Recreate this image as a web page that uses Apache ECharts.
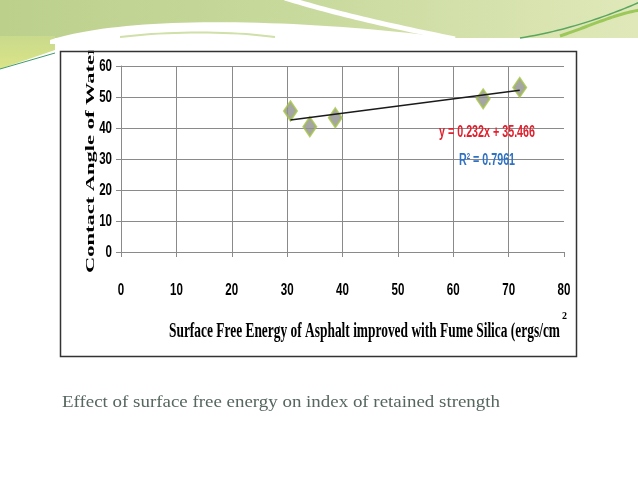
<!DOCTYPE html>
<html>
<head>
<meta charset="utf-8">
<style>
  html, body { margin: 0; padding: 0; background: #fff; }
  #main { width: 638px; height: 478px; }
</style>
<script src="https://cdn.jsdelivr.net/npm/echarts@6/dist/echarts.min.js"></script>
</head>
<body>
<div id="main"></div>
<script>
// 数据
var xTicks = [0, 10, 20, 30, 40, 50, 60, 70, 80];
var yTicks = [0, 10, 20, 30, 40, 50, 60];
var surfaceEnergy = [30.6, 34.1, 38.7, 65.4, 72.0];
var contactAngle = [45.5, 40.4, 43.3, 49.4, 53.1];
var trendX = [30.6, 72.0];
var trendY = [42.6, 52.2];
var eqText = 'y = 0.232x + 35.466';
var r2Value = '0.7961';
var xTitle = 'Surface Free Energy of Asphalt improved with Fume Silica (ergs/cm';
var yTitle = 'Contact Angle of Water';
var caption = 'Effect of surface free energy on index of retained strength';

// 文字宽度测量，用来压缩字体
function measure(text, font) {
    var ctx = document.createElement('canvas').getContext('2d');
    ctx.font = font;
    return ctx.measureText(text).width;
}
// 贝塞尔曲线取点
function bez(p0, p1, p2, p3, n) {
    var pts = [];
    for (var i = 0; i <= n; i++) {
        var t = i / n, u = 1 - t;
        pts.push([
            u * u * u * p0[0] + 3 * u * u * t * p1[0] + 3 * u * t * t * p2[0] + t * t * t * p3[0],
            u * u * u * p0[1] + 3 * u * u * t * p1[1] + 3 * u * t * t * p2[1] + t * t * t * p3[1]
        ]);
    }
    return pts;
}

(function() {
    var myChart = echarts.init(document.getElementById('main'));

    var xFont = 'bold 20px "Liberation Serif"';
    var xScale = 391 / measure(xTitle, xFont);
    var yFont = 'bold 12px "Liberation Serif"';
    var yLen = 228;
    var yScale = yLen / measure(yTitle, yFont);
    var eqFont = 'bold 16px "Liberation Sans"';
    var eqScale = 96 / measure(eqText, eqFont);
    var capFont = '17px "Liberation Serif"';
    var capScale = 438 / measure(caption, capFont);
    var tickFont = 'bold 17px "Liberation Sans"';

    var scatterData = surfaceEnergy.map(function(x, i) { return [x, contactAngle[i]]; });
    var trendData = trendX.map(function(x, i) { return [x, trendY[i]]; });

    var whiteSwoosh = bez([50, 40], [120, 17], [280, 16], [460, 39], 40);
    whiteSwoosh.push([460, 44], [50, 44]);

    var graphics = [
        // 图表边框
        { type: 'rect', shape: { x: 60.5, y: 51.5, width: 516, height: 305 },
          style: { fill: 'none', stroke: '#333', lineWidth: 1.5 }, z: 10 },
        // 纵轴标题
        { type: 'text', x: 91, y: 273 - yLen / 2, rotation: Math.PI / 2, scaleX: yScale, z: 5,
          style: { text: yTitle, font: yFont, fill: '#000', align: 'center', verticalAlign: 'middle' } },
        // 遮住超出边框的部分
        { type: 'rect', shape: { x: 70, y: 36, width: 50, height: 14.8 }, style: { fill: '#fff' }, z: 6 },
        // 横轴标题
        { type: 'text', x: 169, y: 332, scaleX: xScale, z: 5,
          style: { text: xTitle, font: xFont, fill: '#000', align: 'left', verticalAlign: 'middle' } },
        { type: 'text', x: 562, y: 316, z: 5,
          style: { text: '2', font: 'bold 10px "Liberation Serif"', fill: '#000', align: 'left', verticalAlign: 'middle' } },
        // 趋势线公式
        { type: 'text', x: 487, y: 133, scaleX: eqScale, z: 5,
          style: { text: eqText, font: eqFont, fill: '#e3202e', align: 'center', verticalAlign: 'middle' } },
        { type: 'text', x: 487, y: 161, scaleX: eqScale, z: 5,
          style: { text: '{a|R}{s|2}{a| = ' + r2Value + '}', align: 'center', verticalAlign: 'middle',
              rich: {
                  a: { font: eqFont, fill: '#2f72c4' },
                  s: { font: 'bold 9px "Liberation Sans"', fill: '#2f72c4', verticalAlign: 'top', padding: [0, 0, 8, 0] }
              } } },
        // 下方说明文字
        { type: 'text', x: 62, y: 403, scaleX: capScale, z: 5,
          style: { text: caption, font: capFont, fill: '#56675f', align: 'left', verticalAlign: 'middle' } },
        // 顶部装饰
        { type: 'rect', shape: { x: 0, y: 0, width: 638, height: 38 }, z: 20,
          style: { fill: new echarts.graphic.LinearGradient(0, 0, 1, 0, [
              { offset: 0, color: '#bcd08c' }, { offset: 0.5, color: '#c9da9e' }, { offset: 1, color: '#e0e8b9' }]) } },
        { type: 'polygon', shape: { points: [[0, 36], [55, 36], [55, 50], [0, 69]] }, z: 20,
          style: { fill: new echarts.graphic.LinearGradient(0, 0, 0, 1, [
              { offset: 0, color: '#c9da8c' }, { offset: 1, color: '#dbe487' }]) } },
        { type: 'polygon', shape: { points: whiteSwoosh }, z: 21, style: { fill: '#fff' } },
        { type: 'polyline', shape: { points: bez([120, 37], [170, 31], [230, 31], [275, 37], 20) }, z: 22,
          style: { stroke: '#cfe0a8', lineWidth: 2, fill: 'none' } },
        { type: 'polyline', shape: { points: bez([285, -2], [330, 12], [390, 26], [455, 39], 30) }, z: 22,
          style: { stroke: '#fff', lineWidth: 5, fill: 'none' } },
        { type: 'polyline', shape: { points: bez([520, 38], [570, 30], [610, 15], [640, 2], 30) }, z: 22,
          style: { stroke: '#5aa65e', lineWidth: 1.5, fill: 'none' } },
        { type: 'polyline', shape: { points: bez([560, 36], [590, 26], [615, 14], [640, 10], 30) }, z: 22,
          style: { stroke: '#9cc759', lineWidth: 3, fill: 'none' } },
        { type: 'line', shape: { x1: 0, y1: 69, x2: 55, y2: 53 }, z: 22,
          style: { stroke: '#3f9a6e', lineWidth: 1 } }
    ];

    var option = {
        backgroundColor: '#fff',
        animation: false,
        grid: { left: 121, right: 74, top: 66, bottom: 226 },
        xAxis: {
            type: 'value', min: 0, max: 80, interval: 10,
            axisLine: { show: true, onZero: false, lineStyle: { color: '#8a8a8a', width: 1 } },
            axisTick: { show: true, length: 5, lineStyle: { color: '#8a8a8a' } },
            axisLabel: { show: false },
            splitLine: { show: true, showMaxLine: false, lineStyle: { color: '#8a8a8a', width: 1 } }
        },
        yAxis: {
            type: 'value', min: 0, max: 60, interval: 10,
            axisLine: { show: true, lineStyle: { color: '#8a8a8a', width: 1 } },
            axisTick: { show: true, length: 5, lineStyle: { color: '#8a8a8a' } },
            axisLabel: { show: false },
            splitLine: { show: true, lineStyle: { color: '#8a8a8a', width: 1 } }
        },
        series: [{
            type: 'scatter',
            data: scatterData,
            symbol: 'diamond',
            symbolSize: [13, 19],
            itemStyle: { color: '#8e8e8e', borderColor: '#a4c24a', borderWidth: 2 },
            z: 2
        }, {
            type: 'line',
            data: trendData,
            symbol: 'none',
            lineStyle: { color: '#1a1a1a', width: 1.5 },
            z: 3
        }],
        graphic: graphics
    };
    myChart.setOption(option);

    // 刻度文字：窄字体，用坐标轴换算位置
    var tickGraphics = [];
    xTicks.forEach(function(v) {
        var p = myChart.convertToPixel({ gridIndex: 0 }, [v, 0]);
        tickGraphics.push({ type: 'text', x: p[0], y: p[1] + 38, scaleX: 0.68, z: 5,
            style: { text: String(v), font: tickFont, fill: '#000', align: 'center', verticalAlign: 'middle' } });
    });
    yTicks.forEach(function(v) {
        var p = myChart.convertToPixel({ gridIndex: 0 }, [0, v]);
        tickGraphics.push({ type: 'text', x: p[0] - 9, y: p[1], scaleX: 0.68, z: 5,
            style: { text: String(v), font: tickFont, fill: '#000', align: 'right', verticalAlign: 'middle' } });
    });
    myChart.setOption({ graphic: graphics.concat(tickGraphics) });
})();
</script>
</body>
</html>
